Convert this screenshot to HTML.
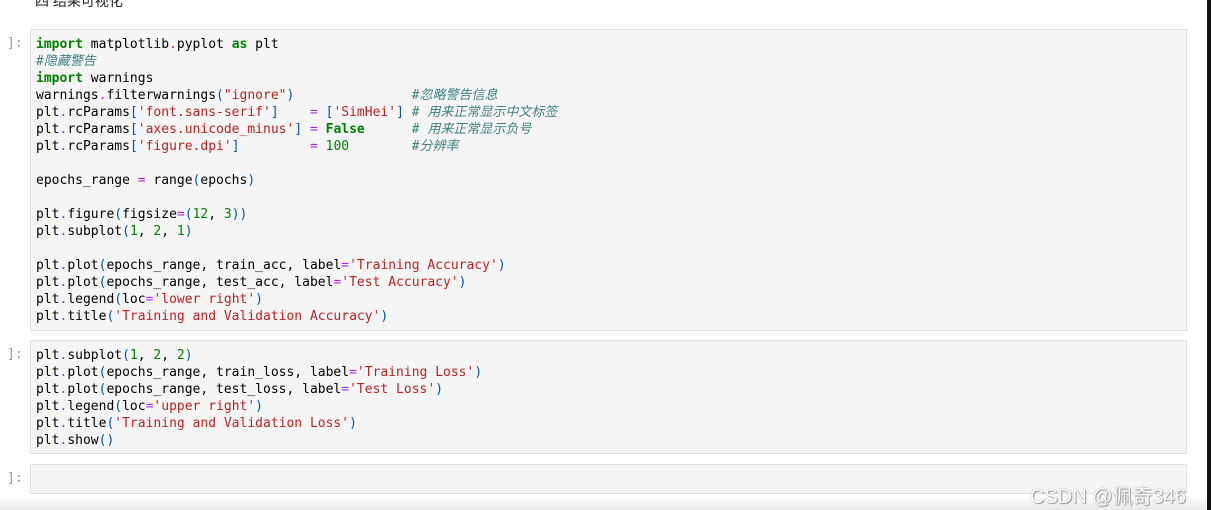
<html><head><style>
body{margin:0;width:1211px;height:510px;background:#fff;position:relative;overflow:hidden;font-family:"DejaVu Sans Mono","Liberation Mono",monospace}
.c{position:absolute;left:30px;width:1155px;background:#f5f5f5;border:1px solid #e0e0e0}
pre{margin:0;position:absolute;left:5px;font-family:"DejaVu Sans Mono","Noto Sans CJK SC",monospace;font-size:13px;line-height:17px;color:#000}
.p{position:absolute;left:7px;font-size:13px;color:#999;font-family:"DejaVu Sans Mono",monospace}
.k{color:#008000;font-weight:bold}.s{color:#ba2121}.n{color:#008000}.o{color:#aa22ff}.m{color:#408080;font-style:italic}.b{color:#0055aa}
</style></head><body>
<div style="position:absolute;left:35px;top:-9px;font-size:14px;font-family:'Liberation Sans','Noto Sans CJK SC',sans-serif;color:#222">四 结果可视化</div>
<div class="p" style="top:36px">]:</div>
<div class="c" style="top:29px;height:300px"><pre style="top:6px"><span class="k">import</span> matplotlib<span class="o">.</span>pyplot <span class="k">as</span> plt
<span class="m">#隐藏警告</span>
<span class="k">import</span> warnings
warnings<span class="o">.</span>filterwarnings<span class="b">(</span><span class="s">"ignore"</span><span class="b">)</span>               <span class="m">#忽略警告信息</span>
plt<span class="o">.</span>rcParams<span class="b">[</span><span class="s">'font.sans-serif'</span><span class="b">]</span>    <span class="o">=</span> <span class="b">[</span><span class="s">'SimHei'</span><span class="b">]</span> <span class="m"># 用来正常显示中文标签</span>
plt<span class="o">.</span>rcParams<span class="b">[</span><span class="s">'axes.unicode_minus'</span><span class="b">]</span> <span class="o">=</span> <span class="k">False</span>      <span class="m"># 用来正常显示负号</span>
plt<span class="o">.</span>rcParams<span class="b">[</span><span class="s">'figure.dpi'</span><span class="b">]</span>         <span class="o">=</span> <span class="n">100</span>        <span class="m">#分辨率</span>

epochs_range <span class="o">=</span> range<span class="b">(</span>epochs<span class="b">)</span>

plt<span class="o">.</span>figure<span class="b">(</span>figsize<span class="o">=</span><span class="b">(</span><span class="n">12</span>, <span class="n">3</span><span class="b">))</span>
plt<span class="o">.</span>subplot<span class="b">(</span><span class="n">1</span>, <span class="n">2</span>, <span class="n">1</span><span class="b">)</span>

plt<span class="o">.</span>plot<span class="b">(</span>epochs_range, train_acc, label<span class="o">=</span><span class="s">'Training Accuracy'</span><span class="b">)</span>
plt<span class="o">.</span>plot<span class="b">(</span>epochs_range, test_acc, label<span class="o">=</span><span class="s">'Test Accuracy'</span><span class="b">)</span>
plt<span class="o">.</span>legend<span class="b">(</span>loc<span class="o">=</span><span class="s">'lower right'</span><span class="b">)</span>
plt<span class="o">.</span>title<span class="b">(</span><span class="s">'Training and Validation Accuracy'</span><span class="b">)</span></pre></div>
<div class="p" style="top:347px">]:</div>
<div class="c" style="top:340px;height:112px"><pre style="top:6px">plt<span class="o">.</span>subplot<span class="b">(</span><span class="n">1</span>, <span class="n">2</span>, <span class="n">2</span><span class="b">)</span>
plt<span class="o">.</span>plot<span class="b">(</span>epochs_range, train_loss, label<span class="o">=</span><span class="s">'Training Loss'</span><span class="b">)</span>
plt<span class="o">.</span>plot<span class="b">(</span>epochs_range, test_loss, label<span class="o">=</span><span class="s">'Test Loss'</span><span class="b">)</span>
plt<span class="o">.</span>legend<span class="b">(</span>loc<span class="o">=</span><span class="s">'upper right'</span><span class="b">)</span>
plt<span class="o">.</span>title<span class="b">(</span><span class="s">'Training and Validation Loss'</span><span class="b">)</span>
plt<span class="o">.</span>show<span class="b">()</span></pre></div>
<div class="p" style="top:471px">]:</div>
<div class="c" style="top:464px;height:28px"></div>
<div style="position:absolute;left:0;top:496px;width:1211px;height:14px;background:linear-gradient(#fff,#e8e8e8)"></div>
<div style="position:absolute;left:1207px;top:0;width:4px;height:510px;background:#111"></div>
<div style="position:absolute;left:1030px;top:480px;font-size:20px;font-family:'Liberation Sans','Noto Sans CJK SC',sans-serif;color:#fff;text-shadow:0 0 1px #777,1px 1px 1px #999">CSDN @佩奇346</div>
</body></html>
